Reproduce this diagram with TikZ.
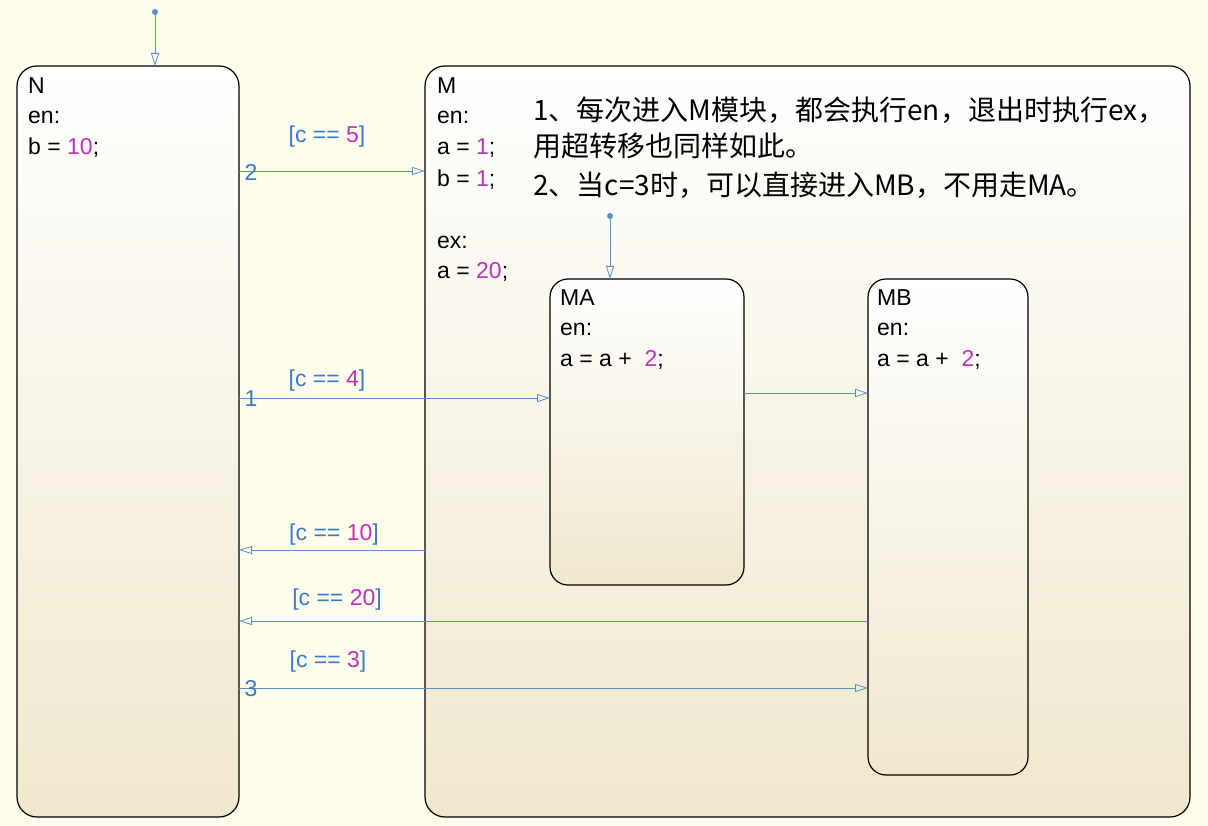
\documentclass[tikz,border=0pt]{standalone}
\usepackage{fontspec}
\setmainfont{Liberation Sans}
\newfontfamily\cjk{Noto Sans CJK SC}
\usetikzlibrary{arrows.meta}
\definecolor{bgyellow}{RGB}{255,253,235}
\definecolor{statebot}{RGB}{240,232,205}
\definecolor{trans}{RGB}{91,143,201}
\definecolor{labblue}{RGB}{58,123,200}
\definecolor{nummag}{RGB}{192,48,192}
\tikzset{
  state/.style={draw=black, line width=1.2pt, rounded corners=20pt, top color=white,
    bottom color=statebot, inner sep=0pt, outer sep=0pt},
  txt/.style={anchor=west, inner sep=0pt, font=\fontsize{23}{27}\selectfont},
  lab/.style={inner sep=0pt, text=labblue, font=\fontsize{23}{27}\selectfont},
  tr/.style={draw=trans, line width=0.8pt, -{Triangle[open, length=13pt, width=8pt]}},
  dot/.style={circle, fill=trans, inner sep=0pt, minimum size=6pt}
}
\newcommand{\num}[1]{\textcolor{nummag}{#1}}
\begin{document}
\begin{tikzpicture}[x=1pt, y=-1pt]
    \fill[bgyellow] (0,0) rectangle (1208,826);
    \useasboundingbox (0,0) rectangle (1208,826);
    % the states
    \node[state, minimum width=222pt, minimum height=751pt] (N) at (128,441.5) {};
    \node[state, minimum width=765pt, minimum height=751pt] (M) at (807.5,441.5) {};
    \node[state, minimum width=194pt, minimum height=306pt, rounded corners=18pt] (MA) at (647,432) {};
    \node[state, minimum width=160pt, minimum height=496pt, rounded corners=18pt] (MB) at (948,527) {};
    % state texts
    \node[txt] (tN) at (28,86) {N};
    \node[txt] at (28,117) {en:};
    \node[txt] at (28,148) {b = \num{10};};
    \node[txt] (tM) at (437,86) {M};
    \node[txt] at (437,117) {en:};
    \node[txt] at (437,148) {a = \num{1};};
    \node[txt] at (437,180) {b = \num{1};};
    \node[txt] at (437,242) {ex:};
    \node[txt] at (437,272) {a = \num{20};};
    \node[txt] (tMA) at (560,298) {MA};
    \node[txt] at (560,329) {en:};
    \node[txt] at (560,360) {a = a + ~\num{2};};
    \node[txt] (tMB) at (877,298) {MB};
    \node[txt] at (877,329) {en:};
    \node[txt] at (877,360) {a = a + ~\num{2};};
    % the note
    \node[txt, font=\fontsize{28}{32}\cjk] (note1) at (533,110) {1、每次进入M模块，都会执行en，退出时执行ex，};
    \node[txt, font=\fontsize{28}{32}\cjk] (note2) at (533,146) {用超转移也同样如此。};
    \node[txt, font=\fontsize{28}{32}\cjk] (note3) at (533,185) {2、当c=3时，可以直接进入MB，不用走MA。};
    % default transitions
    \node[dot] (d1) at (155,12) {};
    \node[dot] (d2) at (610,216) {};
    \draw[tr] (d1) -- (d1 |- N.north);
    \draw[tr] (d2) -- (d2 |- MA.north);
    % the transitions
    \draw[tr] (N.east |- 0,171) -- (M.west |- 0,171);
    \draw[tr] (N.east |- 0,398) -- (MA.west |- 0,398);
    \draw[tr] (MA.east |- 0,393) -- (MB.west |- 0,393);
    \draw[tr] (M.west |- 0,550) -- (N.east |- 0,550);
    \draw[tr] (MB.west |- 0,621) -- (N.east |- 0,621);
    \draw[tr] (N.east |- 0,688) -- (MB.west |- 0,688);
    % transition labels
    \node[lab] (l5) at (327,137) {[c == \num{5}]};
    \node[lab] (l4) at (327,381) {[c == \num{4}]};
    \node[lab] (l10) at (334,535) {[c == \num{10}]};
    \node[lab] (l20) at (337,600) {[c == \num{20}]};
    \node[lab] (l3) at (328,662) {[c == \num{3}]};
    \node[lab] (o2) at (251,172) {2};
    \node[lab] (o1) at (251,399) {1};
    \node[lab] (o3) at (251,689) {3};
\end{tikzpicture}
\end{document}
